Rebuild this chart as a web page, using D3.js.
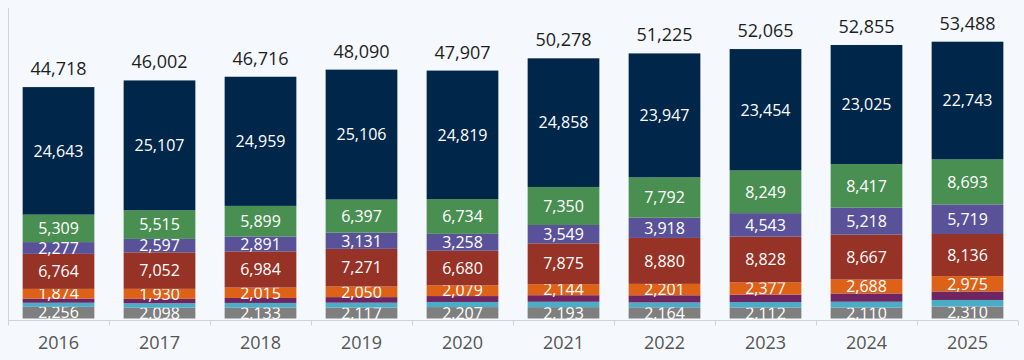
<!DOCTYPE html>
<html><head><meta charset="utf-8">
<script src="https://cdn.jsdelivr.net/npm/d3@7"></script>
<style>
html,body{margin:0;padding:0;background:#f5f9fd;}
svg{display:block;font-family:"Open Sans",sans-serif;}
</style></head>
<body><svg id="c" width="1024" height="360"></svg>
<script>
const years = ["2016","2017","2018","2019","2020","2021","2022","2023","2024","2025"];
const totals = [44718,46002,46716,48090,47907,50278,51225,52065,52855,53488];
const gray   = [2256,2098,2133,2117,2207,2193,2164,2112,2110,2310];
const teal   = [790,850,875,938,990,1039,943,1062,1130,1272];
const plum   = [805,853,960,1080,1140,1270,1380,1440,1600,1640];
const orange = [1874,1930,2015,2050,2079,2144,2201,2377,2688,2975];
const red    = [6764,7052,6984,7271,6680,7875,8880,8828,8667,8136];
const violet = [2277,2597,2891,3131,3258,3549,3918,4543,5218,5719];
const green  = [5309,5515,5899,6397,6734,7350,7792,8249,8417,8693];
const navy   = [24643,25107,24959,25106,24819,24858,23947,23454,23025,22743];

const seriesList = [
  {key:"gray", vals:gray, color:"#7f7f7f", label:true},
  {key:"teal", vals:teal, color:"#4bacc6", label:false},
  {key:"plum", vals:plum, color:"#6e2561", label:false},
  {key:"orange", vals:orange, color:"#de6118", label:true},
  {key:"red", vals:red, color:"#963226", label:true},
  {key:"violet", vals:violet, color:"#5a5299", label:true},
  {key:"green", vals:green, color:"#4a8f52", label:true},
  {key:"navy", vals:navy, color:"#00264a", label:true}
];

const rows = years.map((y,i)=>{const r={year:y}; seriesList.forEach(s=>r[s.key]=s.vals[i]); return r;});
const stack = d3.stack().keys(seriesList.map(s=>s.key))(rows);

const svg = d3.select("#c");
const x = d3.scaleBand().domain(years).range([8,1018]).paddingInner(0.29).paddingOuter(0.145);
const y = d3.scaleLinear().domain([0,60000]).range([318.5,8]);

svg.append("line").attr("x1",8.5).attr("x2",8.5).attr("y1",8).attr("y2",320.5).attr("stroke","#d0d4d9").attr("stroke-width",1);

stack.forEach((layer,li)=>{
  const s = seriesList[li];
  const g = svg.append("g");
  g.selectAll("rect").data(layer).join("rect")
    .attr("x",d=>x(d.data.year))
    .attr("width",x.bandwidth())
    .attr("y",d=>y(d[1]))
    .attr("height",d=>y(d[0])-y(d[1]))
    .attr("fill",s.color);
  if(s.label){
    g.selectAll("text").data(layer).join("text")
      .attr("x",d=>x(d.data.year)+x.bandwidth()/2)
      .attr("y",d=>(y(d[0])+y(d[1]))/2)
      .attr("dy","0.36em")
      .attr("text-anchor","middle")
      .attr("fill","#ffffff")
      .attr("font-size",16)
      .text(d=>d3.format(",")(d[1]-d[0]));
  }
});

svg.append("g").selectAll("text").data(years).join("text")
  .attr("x",d=>x(d)+x.bandwidth()/2)
  .attr("y",(d,i)=>y(totals[i])-12)
  .attr("text-anchor","middle")
  .attr("fill","#1e1e1e")
  .attr("font-size",18)
  .text((d,i)=>d3.format(",")(totals[i]));

const xAxis = d3.axisBottom(x).tickSize(0).tickPadding(16);
const ax = svg.append("g").attr("transform","translate(0,320.5)").call(xAxis);
ax.select(".domain").attr("stroke","#d0d4d9").attr("d","M8,0H1018");
ax.selectAll("text").attr("font-size",18).attr("fill","#555").attr("font-family","Open Sans, sans-serif");
const bounds = d3.range(years.length+1).map(i=>8+i*(1010/years.length));
ax.selectAll(".btick").data(bounds).join("line").attr("class","btick")
  .attr("x1",d=>Math.round(d)+0.5).attr("x2",d=>Math.round(d)+0.5)
  .attr("y1",0).attr("y2",5).attr("stroke","#d0d4d9");
</script></body></html>
